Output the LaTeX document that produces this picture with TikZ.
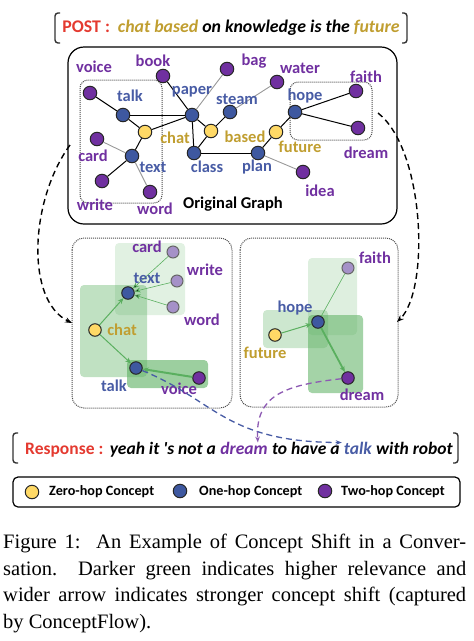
\documentclass[tikz,border=0pt]{standalone}
\usepackage{fontspec}
\setmainfont{Liberation Serif}
\newfontfamily\labelfont{Carlito}
\usetikzlibrary{arrows.meta, positioning}

\definecolor{twohop}{RGB}{112,48,160}
\definecolor{onehop}{RGB}{62,88,160}
\definecolor{zerohop}{RGB}{255,217,102}
\definecolor{paletwo}{RGB}{165,145,200}
\definecolor{goldtext}{RGB}{192,158,48}
\definecolor{redtext}{RGB}{228,58,48}
\definecolor{bluetext}{RGB}{72,92,165}
\definecolor{flow}{RGB}{90,175,95}

\begin{document}
\begin{tikzpicture}[x=1pt, y=-1pt]
  \useasboundingbox (0,0) rectangle (474,641);

  % Stile.
  \tikzstyle{concept}=[circle, draw=black!85, line width=1pt, minimum size=13.5pt, inner sep=0pt]
  \tikzstyle{zero}=[concept, fill=zerohop]
  \tikzstyle{one}=[concept, fill=onehop]
  \tikzstyle{two}=[concept, fill=twohop]
  \tikzstyle{pale}=[concept, fill=paletwo, draw=black!60, minimum size=12pt]
  \tikzstyle{lbl}=[inner sep=0pt, font=\labelfont\bfseries\fontsize{16.5}{18}\selectfont]
  \tikzstyle{strong}=[black, line width=1pt]
  \tikzstyle{weak}=[black!40, line width=0.9pt]
  \tikzstyle{flowarrow}=[draw=flow, -{Stealth[length=6pt, width=5pt]}]
  \tikzstyle{region}=[fill=flow, rounded corners=4pt]
  \tikzstyle{hop}=[line width=1.4pt, dash pattern=on 6pt off 4pt]
  \tikzstyle{bracket}=[line width=1.4pt, black!80, rounded corners=3pt]

  % Post.
  \draw[bracket] (60,13) -- (55,13) -- (55,43) -- (60,43);
  \draw[bracket] (402,13) -- (407,13) -- (407,43) -- (402,43);
  \node[lbl, font=\labelfont\bfseries\fontsize{17.8}{20}\selectfont] (post) at (231,28)
    {\textcolor{redtext}{POST :}\ \ \textit{\textcolor{goldtext}{chat based} on knowledge is the \textcolor{goldtext}{future}}};

  % Originalgraph.
  \draw[line width=1.2pt, rounded corners=16pt] (68,47) rectangle (397,224);
  \draw[densely dotted, line width=1pt, black!70, rounded corners=8pt] (80,80) rectangle (162,203);
  \draw[densely dotted, line width=1pt, black!70, rounded corners=8pt] (290,82) rectangle (372,140);

  \node[two] (voice) at (90,93) {};
  \node[two] (book) at (163,76) {};
  \node[two] (bag) at (227,69) {};
  \node[two] (water) at (277,82) {};
  \node[two] (faith) at (356,91) {};
  \node[one] (talk) at (123,115) {};
  \node[one] (paper) at (192,115) {};
  \node[one] (steam) at (230,112) {};
  \node[one] (hope) at (295,112) {};
  \node[zero] (chat) at (145,132) {};
  \node[zero] (based) at (211,131) {};
  \node[zero] (future) at (276,132) {};
  \node[two] (dream) at (358,128) {};
  \node[two] (card) at (97,139) {};
  \node[one] (text) at (132,156) {};
  \node[one] (class) at (194,153) {};
  \node[one] (plan) at (258,153) {};
  \node[two] (idea) at (303,172) {};
  \node[two] (write) at (102,181) {};
  \node[two] (word) at (150,192) {};

  \path[strong] (voice) edge (talk);
  \path[strong] (talk) edge (paper);
  \path[strong] (talk) edge (chat);
  \path[strong] (chat) edge (paper);
  \path[strong] (chat) edge (text);
  \path[strong] (text) edge (write);
  \path[weak] (text) edge (card);
  \path[weak] (text) edge (word);
  \path[strong] (book) edge (paper);
  \path[weak] (bag) edge (paper);
  \path[strong] (paper) edge (class);
  \path[strong] (paper) edge (based);
  \path[strong] (steam) edge (based);
  \path[strong] (class) edge (based);
  \path[weak] (steam) edge (water);
  \path[strong] (class) edge (plan);
  \path[strong] (plan) edge (future);
  \path[strong] (future) edge (hope);
  \path[weak] (plan) edge (idea);
  \path[strong] (hope) edge (faith);
  \path[strong] (hope) edge (dream);

  \node[lbl, twohop] (voice-l) at (94,67) {voice};
  \node[lbl, twohop] (book-l) at (153,61) {book};
  \node[lbl, twohop] (bag-l) at (254,61) {bag};
  \node[lbl, twohop] (water-l) at (300,68) {water};
  \node[lbl, twohop] (faith-l) at (366,77) {faith};
  \node[lbl, bluetext] (talk-l) at (130,96) {talk};
  \node[lbl, bluetext] (paper-l) at (192,92) {paper};
  \node[lbl, bluetext] (steam-l) at (237,99) {steam};
  \node[lbl, bluetext] (hope-l) at (305,96) {hope};
  \node[lbl, goldtext] (chat-l) at (175,138) {chat};
  \node[lbl, goldtext] (based-l) at (245,137) {based};
  \node[lbl, goldtext] (future-l) at (300,147) {future};
  \node[lbl, twohop] (dream-l) at (366,153) {dream};
  \node[lbl, twohop] (card-l) at (93,156) {card};
  \node[lbl, bluetext] (text-l) at (153,167) {text};
  \node[lbl, bluetext] (class-l) at (207,167) {class};
  \node[lbl, bluetext] (plan-l) at (257,167) {plan};
  \node[lbl, twohop] (idea-l) at (320,191) {idea};
  \node[lbl, twohop] (write-l) at (95,205) {write};
  \node[lbl, twohop] (word-l) at (155,209) {word};
  \node[lbl, black] (graph-l) at (233,204) {Original Graph};

  % Teilgraphen.
  \draw[densely dotted, line width=1pt, black!70, rounded corners=12pt] (72,238) rectangle (232,408);
  \draw[densely dotted, line width=1pt, black!70, rounded corners=12pt] (240,238) rectangle (398,407);

  \fill[region, fill opacity=0.18] (115,243) rectangle (185,315);
  \fill[region, fill opacity=0.38] (80,285) rectangle (147,377);
  \fill[region, fill opacity=0.6] (127,360) rectangle (208,388);
  \fill[region, fill opacity=0.2] (308,258) rectangle (357,335);
  \fill[region, fill opacity=0.3] (263,310) rectangle (328,348);
  \fill[region, fill opacity=0.55] (308,315) rectangle (363,393);

  \node[pale] (card2) at (173,252) {};
  \node[pale] (write2) at (177,281) {};
  \node[one, minimum size=12.5pt] (text2) at (128,293) {};
  \node[pale] (word2) at (173,307) {};
  \node[zero, minimum size=12.5pt] (chat2) at (95,330) {};
  \node[one, minimum size=12.5pt] (talk2) at (136,368) {};
  \node[two, minimum size=12.5pt] (voice2) at (199,378) {};
  \node[pale] (faith2) at (348,268) {};
  \node[one, minimum size=12.5pt] (hope2) at (318,322) {};
  \node[zero, minimum size=12.5pt] (future2) at (275,335) {};
  \node[two, minimum size=12.5pt] (dream2) at (348,378) {};

  \path[flowarrow, line width=0.6pt] (card2) edge (text2);
  \path[flowarrow, line width=0.6pt] (write2) edge (text2);
  \path[flowarrow, line width=0.6pt] (word2) edge (text2);
  \path[flowarrow, line width=1pt] (chat2) edge (text2);
  \path[flowarrow, line width=1pt] (chat2) edge (talk2);
  \path[flowarrow, line width=2pt] (voice2) edge (talk2);
  \path[flowarrow, line width=1pt] (future2) edge (hope2);
  \path[draw=flow, line width=0.6pt] (hope2) edge (faith2);
  \path[flowarrow, line width=1.8pt] (hope2) edge (dream2);

  \node[lbl, twohop] (card2-l) at (147,247) {card};
  \node[lbl, twohop] (write2-l) at (205,270) {write};
  \node[lbl, bluetext] (text2-l) at (147,278) {text};
  \node[lbl, twohop] (word2-l) at (202,320) {word};
  \node[lbl, goldtext] (chat2-l) at (122,330) {chat};
  \node[lbl, bluetext] (talk2-l) at (114,386) {talk};
  \node[lbl, twohop] (voice2-l) at (179,389) {voice};
  \node[lbl, twohop] (faith2-l) at (375,258) {faith};
  \node[lbl, bluetext] (hope2-l) at (295,308) {hope};
  \node[lbl, goldtext] (future2-l) at (265,353) {future};
  \node[lbl, twohop] (dream2-l) at (362,395) {dream};

  % Verschiebungen.
  \coordinate (out-l) at (70,145);
  \coordinate (in-l) at (72,323);
  \coordinate (out-r) at (378,113);
  \coordinate (in-r) at (397,322);
  \draw[hop, -{Stealth[length=7pt]}] (out-l) .. controls (30,200) and (25,300) .. (in-l);
  \draw[hop, -{Stealth[length=7pt]}] (out-r) .. controls (425,150) and (430,290) .. (in-r);

  % Antwort.
  \draw[bracket] (18,433) -- (13,433) -- (13,463) -- (18,463);
  \draw[bracket] (453,433) -- (458,433) -- (458,463) -- (453,463);
  \tikzstyle{resp}=[lbl, anchor=base west, font=\labelfont\bfseries\itshape\fontsize{17.5}{20}\selectfont]
  \node[resp, redtext, font=\labelfont\bfseries\fontsize{17.5}{20}\selectfont] (resp-head) at (25,454) {Response :};
  \node[resp, base right=6pt of resp-head] (resp-a) {yeah it 's not a};
  \node[resp, twohop, base right=4pt of resp-a] (resp-dream) {dream};
  \node[resp, base right=4pt of resp-dream] (resp-b) {to have a};
  \node[resp, bluetext, base right=4pt of resp-b] (resp-talk) {talk};
  \node[resp, base right=4pt of resp-talk] (resp-c) {with robot};

  \draw[hop, line width=1.3pt, bluetext, -{Stealth[length=6pt]}] (talk2) .. controls (215,400) and (225,442) .. ([xshift=-2pt, yshift=-1pt]resp-talk.north west);
  \draw[hop, line width=1.3pt, twohop!80, -{Stealth[length=6pt]}] (dream2) .. controls (285,385) and (255,395) .. ([xshift=-10pt, yshift=-1pt]resp-dream.north east);

  % Legende.
  \draw[line width=1.2pt, rounded corners=5pt] (13,477) rectangle (460,507);
  \node[zero] (key-zero) at (32,492) {};
  \node[one] (key-one) at (180,491) {};
  \node[two] (key-two) at (325,491) {};
  \tikzstyle{keytext}=[lbl, anchor=west, font=\labelfont\bfseries\fontsize{14.2}{16}\selectfont]
  \node[keytext] (zero-l) at (49,492) {Zero-hop Concept};
  \node[keytext] (one-l) at (199,492) {One-hop Concept};
  \node[keytext] (two-l) at (341,492) {Two-hop Concept};

  % Beschriftung.
  \node[anchor=north west, inner sep=0pt, text width=463pt, align=justify,
        font=\fontsize{20.5}{26.5}\selectfont] (caption) at (3,534)
    {Figure 1:\ \ An Example of Concept Shift in a Conver-\linebreak
     sation.\ \ Darker green indicates higher relevance and\linebreak
     wider arrow indicates stronger concept shift (captured\linebreak
     by ConceptFlow).};
\end{tikzpicture}
\end{document}
